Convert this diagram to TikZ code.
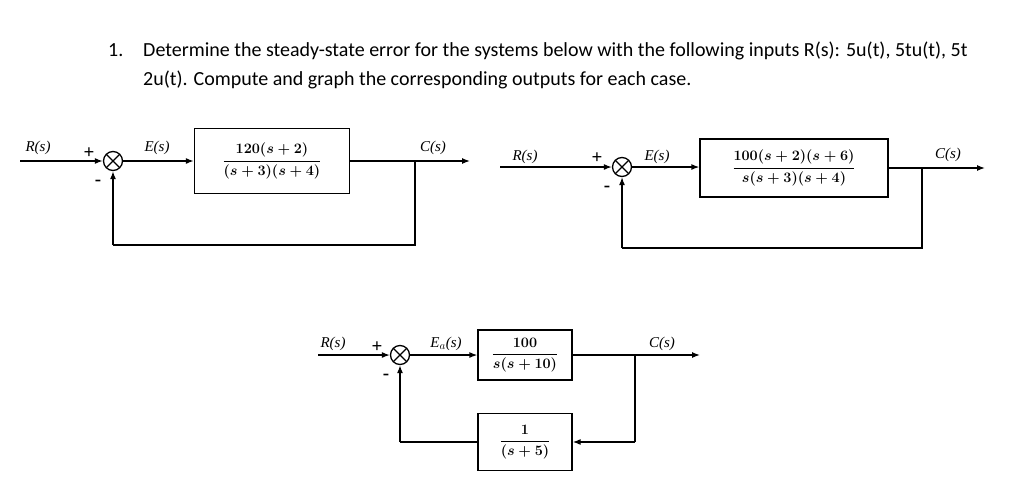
\documentclass[tikz,border=0pt]{standalone}
\usepackage{fontspec}
\setmainfont{Carlito}
\newfontfamily\blockfont{Liberation Serif}
\usetikzlibrary{arrows.meta}

\tikzset{
  sig/.style={line width=1.3pt,-{Latex[length=8pt,width=6pt]}},
  wire/.style={line width=1.3pt},
  block/.style={draw,line width=1.3pt,minimum height=#1},
  sumjct/.style={draw,line width=1.3pt,circle,minimum size=19pt,inner sep=0pt,path picture={
      \draw[line width=1.3pt] (path picture bounding box.north west)--(path picture bounding box.south east)
      (path picture bounding box.north east)--(path picture bounding box.south west);}},
  lbl/.style={font=\blockfont\itshape\fontsize{15}{17}\selectfont,inner sep=1pt},
  sgn/.style={font=\blockfont\bfseries\fontsize{19}{19}\selectfont,inner sep=0pt},
  frac/.style={font=\mathversion{bold}\fontsize{15}{18}\selectfont}
}

\begin{document}
\begin{tikzpicture}[x=1pt,y=-1pt]
	\useasboundingbox[fill=white] (0,0) rectangle (1024,485);

	% Question text
	\node[anchor=base west,font=\fontsize{20}{24}\selectfont,inner sep=0pt] (num) at (108,56) {1.};
	\node[anchor=base west,font=\fontsize{20}{24}\selectfont,inner sep=0pt] (q1) at (143,56)
		{Determine the steady-state error for the systems below with the following inputs R(s): 5u(t), 5tu(t), 5t};
	\node[anchor=base west,font=\fontsize{20}{24}\selectfont,inner sep=0pt] (q2) at (143,85)
		{2u(t). Compute and graph the corresponding outputs for each case.};

	% System a
	\coordinate (ina) at (20,161);
	\node[sumjct] (suma) at (113,161) {};
	\node[block=65,minimum width=155,frac] (ga) at (272,161) {$\displaystyle\frac{120(s+2)}{(s+3)(s+4)}$};
	\coordinate (outa) at (470,161);
	\coordinate (tapa) at (415,161);
	\coordinate (bota) at (415,245);
	\coordinate (bla) at (113,245);
	\draw[sig] (ina) -- (suma);
	\draw[sig] (suma) -- (ga);
	\draw[sig] (ga) -- (outa);
	\draw[wire] (tapa) -- (bota) -- (bla);
	\draw[sig] (bla) -- (suma);
	\node[lbl] (ra) at (38,148) {R(s)};
	\node[lbl] (ea) at (157,148) {E(s)};
	\node[lbl] (ca) at (433,148) {C(s)};
	\node[sgn] (pa) at (89,153) {+};
	\node[sgn] (ma) at (98,183) {-};

	% System b
	\coordinate (inb) at (500,167);
	\node[sumjct] (sumb) at (622,167) {};
	\node[block=58,minimum width=188,frac] (gb) at (794,168) {$\displaystyle\frac{100(s+2)(s+6)}{s(s+3)(s+4)}$};
	\coordinate (outb) at (985,168);
	\coordinate (tapb) at (922,168);
	\coordinate (botb) at (922,248);
	\coordinate (blb) at (622,248);
	\draw[sig] (inb) -- (sumb);
	\draw[sig] (sumb) -- (gb.west |- sumb);
	\draw[sig] (gb) -- (outb);
	\draw[wire] (tapb) -- (botb) -- (blb);
	\draw[sig] (blb) -- (sumb);
	\node[lbl] (rb) at (525,157) {R(s)};
	\node[lbl] (eb) at (657,157) {E(s)};
	\node[lbl] (cb) at (948,155) {C(s)};
	\node[sgn] (pb) at (597,158) {+};
	\node[sgn] (mb) at (607,189) {-};

	% System c
	\coordinate (inc) at (318,355);
	\node[sumjct] (sumc) at (400,355) {};
	\node[block=50,minimum width=94,frac] (gc) at (525,355) {$\displaystyle\frac{100}{s(s+10)}$};
	\node[block=57,minimum width=94,frac] (hc) at (525,442) {$\displaystyle\frac{1}{(s+5)}$};
	\coordinate (outc) at (700,355);
	\coordinate (tapc) at (635,355);
	\coordinate (botc) at (635,442);
	\coordinate (blc) at (400,442);
	\draw[sig] (inc) -- (sumc);
	\draw[sig] (sumc) -- (gc);
	\draw[sig] (gc) -- (outc);
	\draw[wire] (tapc) -- (botc);
	\draw[sig] (botc) -- (hc);
	\draw[wire] (hc) -- (blc);
	\draw[sig] (blc) -- (sumc);
	\node[lbl] (rc) at (333,344) {R(s)};
	\node[lbl] (ec) at (446,344) {E$_a$(s)};
	\node[lbl] (cc) at (662,344) {C(s)};
	\node[sgn] (pc) at (377,347) {+};
	\node[sgn] (mc) at (386,377) {-};
\end{tikzpicture}
\end{document}
